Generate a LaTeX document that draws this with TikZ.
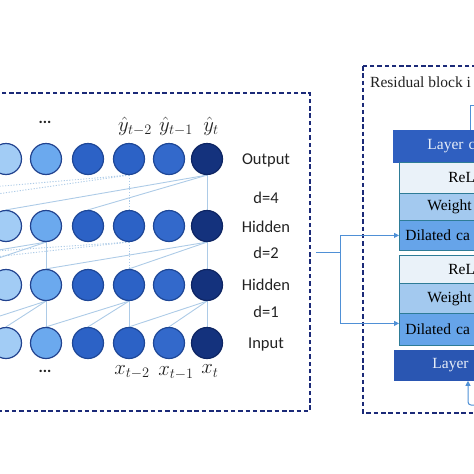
\documentclass[tikz,border=0pt]{standalone}
\usepackage{fontspec}
\newfontfamily\lblfont{Carlito}
\newfontfamily\blkfont{Liberation Serif}
\usetikzlibrary{arrows.meta,positioning,backgrounds}

\definecolor{nlite}{HTML}{A2CCF5}
\definecolor{nsoft}{HTML}{6BA9EE}
\definecolor{ndeep}{HTML}{2C62C6}
\definecolor{nmed}{HTML}{3369CB}
\definecolor{nnavy}{HTML}{14327D}
\definecolor{nrim}{HTML}{22438F}
\definecolor{ndrim}{HTML}{1E4797}
\definecolor{nnrim}{HTML}{0E2563}
\definecolor{synblue}{HTML}{ADCBE7}
\definecolor{framenavy}{HTML}{1B2A78}
\definecolor{feedblue}{HTML}{4F90D6}
\definecolor{blkrim}{HTML}{2E7C97}
\definecolor{laydeep}{HTML}{2F5FC0}
\definecolor{laydeeper}{HTML}{2A56B2}
\definecolor{laytext}{HTML}{E6EDF8}
\definecolor{relufill}{HTML}{EAF2F9}
\definecolor{wtfill}{HTML}{A3C9EF}
\definecolor{dcfill}{HTML}{66A4E9}
\definecolor{labelgray}{HTML}{222222}

\begin{document}
\begin{tikzpicture}[x=1pt,y=-1pt,
  unit/.style={circle,minimum size=31pt,inner sep=0pt,line width=1.2pt},
  syn/.style={draw=synblue,line width=0.9pt},
  synd/.style={syn,dash pattern=on 1.2pt off 1.6pt},
  frame/.style={draw=framenavy,line width=1.7pt,dash pattern=on 4.5pt off 2.8pt},
  feed/.style={draw=feedblue,line width=1pt},
  feedarrow/.style={feed,-{Triangle[length=5pt,width=5pt]}},
  blk/.style={draw=blkrim,line width=0.8pt,anchor=north west,text width=110pt,align=left,inner ysep=0pt,font=\blkfont\fontsize{15.5}{18}\selectfont},
  lbl/.style={font=\lblfont\fontsize{16.5}{19}\selectfont,text=labelgray,inner sep=1pt},
  tlab/.style={font=\huge,text=labelgray,inner sep=0pt}]
\useasboundingbox (0,0) rectangle (474,474);
\clip (0,0) rectangle (474,474);
% frames
\node[frame,minimum width=320pt,minimum height=318pt] (tcnframe) at (150,252) {};
\draw[frame] (363,66) rectangle (540,413);
% neurons, one column at a time
\foreach \cn/\px/\fc/\ec in {0/6/nlite/nrim,1/46/nsoft/nrim,2/88/ndeep/ndrim,3/129/ndeep/ndrim,4/169/nmed/ndrim,5/207/nnavy/nnrim}
  \foreach \lay/\py in {o/159,b/226,a/285,i/343}
    \node[unit,fill=\fc,draw=\ec] (\lay\cn) at (\px,\py) {};
% connections (behind the neurons)
\begin{scope}[on background layer]
\clip (0,0) rectangle (474,474);
\coordinate (bfar) at (-115,210);
\coordinate (bfarther) at (-275,210);
\coordinate (anear) at (-34,269);
\coordinate (afar) at (-115,269);
\coordinate (afarther) at (-275,269);
\coordinate (inear) at (-34,327);
% output d=4
\draw[syn] (o5.south) -- (b5.north);
\draw[syn] (o5.south) -- (b2.north);
\draw[syn] (o5.south) -- (b0.north);
\draw[synd] (o3.south) -- (b3.north);
\draw[synd] (o3.south) -- (bfar);
\draw[synd] (o3.south) -- (bfarther);
% hidden d=2
\draw[syn] (b5.south) -- (a5.north);
\draw[syn] (b5.south) -- (a3.north);
\draw[syn] (b5.south) -- (a1.north);
\draw[syn] (b1.south) -- (a1.north);
\draw[syn] (b1.south) -- (anear);
\draw[syn] (b1.south) -- (afar);
\draw[synd] (b3.south) -- (a3.north);
\draw[synd] (b3.south) -- (afar);
\draw[synd] (b3.south) -- (afarther);
% hidden d=1
\draw[syn] (a5.south) -- (i5.north);
\draw[syn] (a5.south) -- (i4.north);
\draw[syn] (a5.south) -- (i3.north);
\draw[syn] (a3.south) -- (i3.north);
\draw[syn] (a3.south) -- (i2.north);
\draw[syn] (a3.south) -- (i1.north);
\draw[syn] (a1.south) -- (i1.north);
\draw[syn] (a1.south) -- (i0.north);
\draw[syn] (a1.south) -- (inear);
\end{scope}
% time labels
\node[lbl,font=\lblfont\bfseries\fontsize{16}{19}\selectfont] (topdots) at (45,122) {...};
\node[tlab] (yhtwo) at (135,126) {$\hat{y}_{t-2}$};
\node[tlab] (yhone) at (176,126) {$\hat{y}_{t-1}$};
\node[tlab] (yhnow) at (211,126) {$\hat{y}_{t}$};
\node[lbl,font=\lblfont\bfseries\fontsize{16}{19}\selectfont] (botdots) at (45,371) {...};
\node[tlab] (xtwo) at (132,372) {$x_{t-2}$};
\node[tlab] (xone) at (176,373) {$x_{t-1}$};
\node[tlab] (xnow) at (210,371) {$x_{t}$};
% layer labels
\node[lbl] (lout) at (266,160) {Output};
\node[lbl] (dfour) at (266,198) {d=4};
\node[lbl] (lhtwo) at (266,227) {Hidden};
\node[lbl] (dtwo) at (266,253) {d=2};
\node[lbl] (lhone) at (266,285) {Hidden};
\node[lbl] (done) at (266,312) {d=1};
\node[lbl] (linp) at (266,345) {Input};
% residual block
\node[font=\blkfont\fontsize{15.5}{18}\selectfont,anchor=west,text=labelgray,inner sep=0pt] (restitle) at (370,82) {Residual block i};
\node[blk,fill=laydeep,draw=laydeep,text=laytext,minimum height=32pt,inner xsep=34pt] (laytop) at (393,130) {Layer c};
\node[blk,fill=relufill,minimum height=31pt,inner xsep=49pt] (relua) at (399,162) {ReL};
\node[blk,fill=wtfill,minimum height=27pt,inner xsep=28pt] (weighta) at (399,193) {Weight};
\node[blk,fill=dcfill,minimum height=30pt,inner xsep=6pt] (dconva) at (399,220) {Dilated ca};
\node[blk,fill=relufill,minimum height=28pt,inner xsep=49pt] (relub) at (399,255) {ReL};
\node[blk,fill=wtfill,minimum height=30pt,inner xsep=28pt] (weightb) at (399,283) {Weight};
\node[blk,fill=dcfill,minimum height=32pt,inner xsep=6pt] (dconvb) at (399,313) {Dilated ca};
\node[blk,fill=laydeeper,draw=laydeeper,text=laytext,minimum height=30pt,inner xsep=38pt] (laybot) at (394,350) {Layer};
% skip path
\draw[feed] ([xshift=77pt]laytop.north west) -- ++(0,-25) -- ++(20,0);
\coordinate (skipin) at (485,405);
\draw[feedarrow,rounded corners=3pt] (skipin) -| ([xshift=74pt]laybot.south west);
% feed into the block
\coordinate (fork) at ([xshift=30pt]tcnframe.east);
\draw[feed] ([xshift=5pt]tcnframe.east) -- (fork);
\draw[feedarrow] (fork) |- (dconva.west);
\draw[feedarrow] (fork) |- ([yshift=6pt]dconvb.west);
\end{tikzpicture}
\end{document}
